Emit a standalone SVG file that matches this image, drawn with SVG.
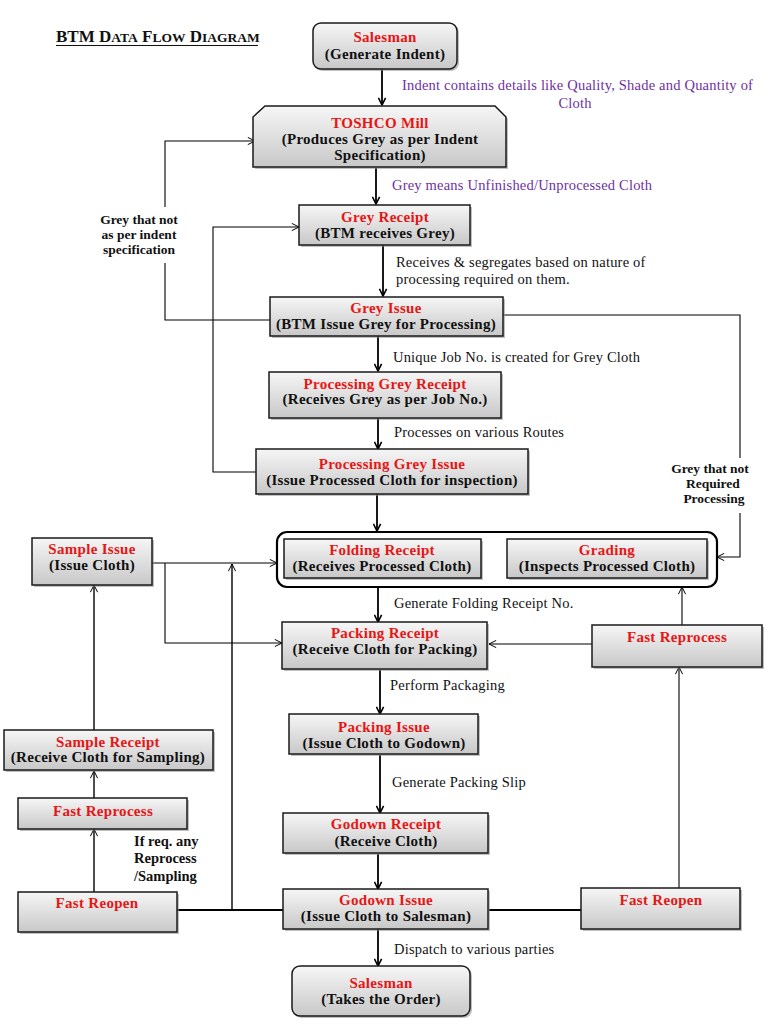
<svg xmlns="http://www.w3.org/2000/svg" width="768" height="1024" viewBox="0 0 768 1024">
<defs>
<linearGradient id="g" x1="0" y1="0" x2="0" y2="1">
<stop offset="0" stop-color="#f6f6f6"/>
<stop offset="1" stop-color="#c8c8c8"/>
</linearGradient>
<marker id="am" viewBox="0 0 10 10" refX="9" refY="5" markerWidth="9" markerHeight="9" markerUnits="userSpaceOnUse" orient="auto">
<path d="M1,1 L9,5 L1,9" fill="none" stroke="#000" stroke-width="1.8"/>
</marker>
<marker id="ao" viewBox="0 0 10 10" refX="9" refY="5" markerWidth="9" markerHeight="9" markerUnits="userSpaceOnUse" orient="auto">
<path d="M1,1 L9,5 L1,9" fill="none" stroke="#000" stroke-width="1.1"/>
</marker>
<marker id="af" viewBox="0 0 10 10" refX="9" refY="5" markerWidth="10" markerHeight="10" markerUnits="userSpaceOnUse" orient="auto">
<path d="M0,1 L10,5 L0,9 L2,5 Z" fill="#000"/>
</marker>
</defs>
<style>
.b{fill:url(#g);stroke:#1a1a1a;stroke-width:1.5}
.s{fill:#8c8c8c;opacity:0.55}
text{font-family:"Liberation Serif","Times New Roman",serif}
.n{font-size:15px;font-weight:bold;fill:#111;text-anchor:middle;letter-spacing:0.3px}
.r{fill:#e81515}
.l{font-size:14.5px;fill:#111;letter-spacing:0.2px}
.lb{font-size:13.5px;font-weight:bold;fill:#111}
.lc{font-size:14.5px;font-weight:bold;fill:#111}
.p{font-size:14.5px;fill:#7030a0;letter-spacing:0.2px}
.m{fill:none;stroke:#000;stroke-width:1.8}
.o{fill:none;stroke:#000;stroke-width:1.1}
</style>
<rect width="768" height="1024" fill="#fff"/>

<g id="title">
<text x="56" y="42" style="font-size:17px;font-weight:bold;fill:#111">BTM D<tspan style="font-size:13.5px">ATA</tspan> F<tspan style="font-size:13.5px">LOW</tspan> D<tspan style="font-size:13.5px">IAGRAM</tspan></text>
<line x1="56" y1="45.5" x2="258" y2="45.5" stroke="#111" stroke-width="1.2"/>
</g>

<g id="connectors">
<line class="m" x1="382" y1="69" x2="382" y2="105" marker-end="url(#am)"/>
<line class="m" x1="376" y1="168" x2="376" y2="204" marker-end="url(#am)"/>
<line class="m" x1="383" y1="245" x2="383" y2="296" marker-end="url(#am)"/>
<line class="m" x1="378" y1="336" x2="378" y2="371" marker-end="url(#am)"/>
<line class="m" x1="378" y1="418" x2="378" y2="449" marker-end="url(#am)"/>
<line class="m" x1="377" y1="494" x2="377" y2="531" marker-end="url(#am)"/>
<line class="m" x1="378" y1="587" x2="378" y2="622" marker-end="url(#am)"/>
<line class="m" x1="380" y1="670" x2="380" y2="714" marker-end="url(#am)"/>
<line class="m" x1="380" y1="755" x2="380" y2="813" marker-end="url(#am)"/>
<line class="m" x1="378" y1="854" x2="378" y2="889" marker-end="url(#am)"/>
<line class="m" x1="378" y1="929" x2="378" y2="966" marker-end="url(#am)"/>
<line x1="481" y1="558" x2="507" y2="558" stroke="#000" stroke-width="2.6" marker-end="url(#af)"/>
<polyline class="o" points="270,320 165,320 165,263"/>
<polyline class="o" points="165,207 165,141 255,141" marker-end="url(#ao)"/>
<polyline class="o" points="256,472 213,472 213,227 299,227" marker-end="url(#ao)"/>
<polyline class="o" points="503,315 740,315 740,458"/>
<polyline class="o" points="740,513 740,557 717,557" marker-end="url(#ao)"/>
<line class="o" x1="152" y1="563" x2="277" y2="563" marker-end="url(#ao)"/>
<polyline class="o" points="165,563 165,643 282,643" marker-end="url(#ao)"/>
<line class="o" x1="592" y1="644" x2="489" y2="644" marker-end="url(#ao)"/>
<line class="o" x1="682" y1="625" x2="682" y2="587" marker-end="url(#ao)"/>
<line class="o" x1="679" y1="888" x2="679" y2="667" marker-end="url(#ao)"/>
<line class="o" x1="232" y1="910" x2="232" y2="564" marker-end="url(#ao)" style="stroke-width:1.4"/>
<line x1="177" y1="910" x2="283" y2="910" stroke="#000" stroke-width="2"/>
<line x1="489" y1="910" x2="581" y2="910" stroke="#000" stroke-width="1.8"/>
<line class="o" x1="94" y1="892" x2="94" y2="829" marker-end="url(#ao)" style="stroke-width:1.4"/>
<line class="o" x1="94" y1="798" x2="94" y2="771" marker-end="url(#ao)" style="stroke-width:1.4"/>
<line class="o" x1="94" y1="730" x2="94" y2="585" marker-end="url(#ao)" style="stroke-width:1.4"/>
</g>

<g id="labels">
<text class="p" x="402" y="90">Indent contains details like Quality, Shade and Quantity of</text>
<text class="p" x="575" y="108" text-anchor="middle">Cloth</text>
<text class="p" x="392" y="190">Grey means Unfinished/Unprocessed Cloth</text>
<text class="l" x="396" y="267">Receives &amp; segregates based on nature of</text>
<text class="l" x="396" y="284">processing required on them.</text>
<text class="l" x="393" y="362">Unique Job No. is created for Grey Cloth</text>
<text class="l" x="394" y="437">Processes on various Routes</text>
<text class="l" x="394" y="608">Generate Folding Receipt No.</text>
<text class="l" x="390" y="690">Perform Packaging</text>
<text class="l" x="392" y="787">Generate Packing Slip</text>
<text class="l" x="394" y="954">Dispatch to various parties</text>
<text class="lb" x="139" y="224" text-anchor="middle">Grey that not</text>
<text class="lb" x="139" y="239" text-anchor="middle">as per indent</text>
<text class="lb" x="139" y="254" text-anchor="middle">specification</text>
<text class="lb" x="710" y="473" text-anchor="middle">Grey that not</text>
<text class="lb" x="713" y="488" text-anchor="middle">Required</text>
<text class="lb" x="714" y="503" text-anchor="middle">Processing</text>
<text class="lc" x="134" y="846">If req. any</text>
<text class="lc" x="134" y="863">Reprocess</text>
<text class="lc" x="134" y="881">/Sampling</text>
</g>

<g id="salesman-top">
<rect class="s" x="315" y="25" width="144" height="46" rx="8"/>
<rect class="b" x="313" y="23" width="144" height="46" rx="8"/>
<text class="n r" x="385" y="42">Salesman</text>
<text class="n" x="385" y="59">(Generate Indent)</text>
</g>

<g id="toshco">
<path class="s" d="M267,108 L497,108 L508,119 L508,169 L255,169 L255,119 Z"/>
<path class="b" d="M265,106 L495,106 L506,117 L506,167 L253,167 L253,117 Z"/>
<text class="n r" x="380" y="128">TOSHCO Mill</text>
<text class="n" x="380" y="144">(Produces Grey as per Indent</text>
<text class="n" x="380" y="160">Specification)</text>
</g>

<g id="grey-receipt">
<rect class="s" x="301" y="207" width="171" height="40"/>
<rect class="b" x="299" y="205" width="171" height="40"/>
<text class="n r" x="385" y="222">Grey Receipt</text>
<text class="n" x="385" y="238">(BTM receives Grey)</text>
</g>

<g id="grey-issue">
<rect class="s" x="272" y="299" width="233" height="39"/>
<rect class="b" x="270" y="297" width="233" height="39"/>
<text class="n r" x="386" y="313">Grey Issue</text>
<text class="n" x="386" y="329">(BTM Issue Grey for Processing)</text>
</g>

<g id="processing-grey-receipt">
<rect class="s" x="271" y="374" width="232" height="46"/>
<rect class="b" x="269" y="372" width="232" height="46"/>
<text class="n r" x="385" y="389">Processing Grey Receipt</text>
<text class="n" x="385" y="404">(Receives Grey as per Job No.)</text>
</g>

<g id="processing-grey-issue">
<rect class="s" x="258" y="451" width="272" height="45"/>
<rect class="b" x="256" y="449" width="272" height="45"/>
<text class="n r" x="392" y="469">Processing Grey Issue</text>
<text class="n" x="392" y="485">(Issue Processed Cloth for inspection)</text>
</g>

<g id="folding-group">
<rect x="277" y="532" width="440" height="55" rx="10" fill="#fff" stroke="#000" stroke-width="2.2"/>
</g>

<g id="folding-receipt">
<rect class="s" x="286" y="541" width="197" height="39"/>
<rect class="b" x="284" y="539" width="197" height="39"/>
<text class="n r" x="382" y="555">Folding Receipt</text>
<text class="n" x="382" y="571">(Receives Processed Cloth)</text>
</g>

<g id="grading">
<rect class="s" x="509" y="541" width="200" height="39"/>
<rect class="b" x="507" y="539" width="200" height="39"/>
<text class="n r" x="607" y="555">Grading</text>
<text class="n" x="607" y="571">(Inspects Processed Cloth)</text>
</g>

<g id="packing-receipt">
<rect class="s" x="284" y="624" width="205" height="47"/>
<rect class="b" x="282" y="622" width="205" height="47"/>
<text class="n r" x="385" y="638">Packing Receipt</text>
<text class="n" x="385" y="654">(Receive Cloth for Packing)</text>
</g>

<g id="packing-issue">
<rect class="s" x="291" y="716" width="189" height="40"/>
<rect class="b" x="289" y="714" width="189" height="40"/>
<text class="n r" x="384" y="732">Packing Issue</text>
<text class="n" x="384" y="748">(Issue Cloth to Godown)</text>
</g>

<g id="godown-receipt">
<rect class="s" x="285" y="815" width="205" height="40"/>
<rect class="b" x="283" y="813" width="205" height="40"/>
<text class="n r" x="386" y="829">Godown Receipt</text>
<text class="n" x="386" y="846">(Receive Cloth)</text>
</g>

<g id="godown-issue">
<rect class="s" x="285" y="891" width="205" height="40"/>
<rect class="b" x="283" y="889" width="205" height="40"/>
<text class="n r" x="386" y="905">Godown Issue</text>
<text class="n" x="386" y="921">(Issue Cloth to Salesman)</text>
</g>

<g id="salesman-bottom">
<rect class="s" x="294" y="968" width="178" height="50" rx="8"/>
<rect class="b" x="292" y="966" width="178" height="50" rx="8"/>
<text class="n r" x="381" y="988">Salesman</text>
<text class="n" x="381" y="1004">(Takes the Order)</text>
</g>

<g id="sample-issue">
<rect class="s" x="34" y="540" width="120" height="47"/>
<rect class="b" x="32" y="538" width="120" height="47"/>
<text class="n r" x="92" y="554">Sample Issue</text>
<text class="n" x="92" y="570">(Issue Cloth)</text>
</g>

<g id="sample-receipt">
<rect class="s" x="6" y="732" width="209" height="40"/>
<rect class="b" x="4" y="730" width="209" height="40"/>
<text class="n r" x="108" y="747">Sample Receipt</text>
<text class="n" x="108" y="762">(Receive Cloth for Sampling)</text>
</g>

<g id="fast-reprocess-left">
<rect class="s" x="20" y="800" width="169" height="31"/>
<rect class="b" x="18" y="798" width="169" height="31"/>
<text class="n r" x="103" y="816">Fast Reprocess</text>
</g>

<g id="fast-reopen-left">
<rect class="s" x="20" y="894" width="159" height="40"/>
<rect class="b" x="18" y="892" width="159" height="40"/>
<text class="n r" x="97" y="908">Fast Reopen</text>
</g>

<g id="fast-reprocess-right">
<rect class="s" x="594" y="627" width="170" height="42"/>
<rect class="b" x="592" y="625" width="170" height="42"/>
<text class="n r" x="677" y="642">Fast Reprocess</text>
</g>

<g id="fast-reopen-right">
<rect class="s" x="583" y="890" width="159" height="41"/>
<rect class="b" x="581" y="888" width="159" height="41"/>
<text class="n r" x="661" y="905">Fast Reopen</text>
</g>
</svg>
